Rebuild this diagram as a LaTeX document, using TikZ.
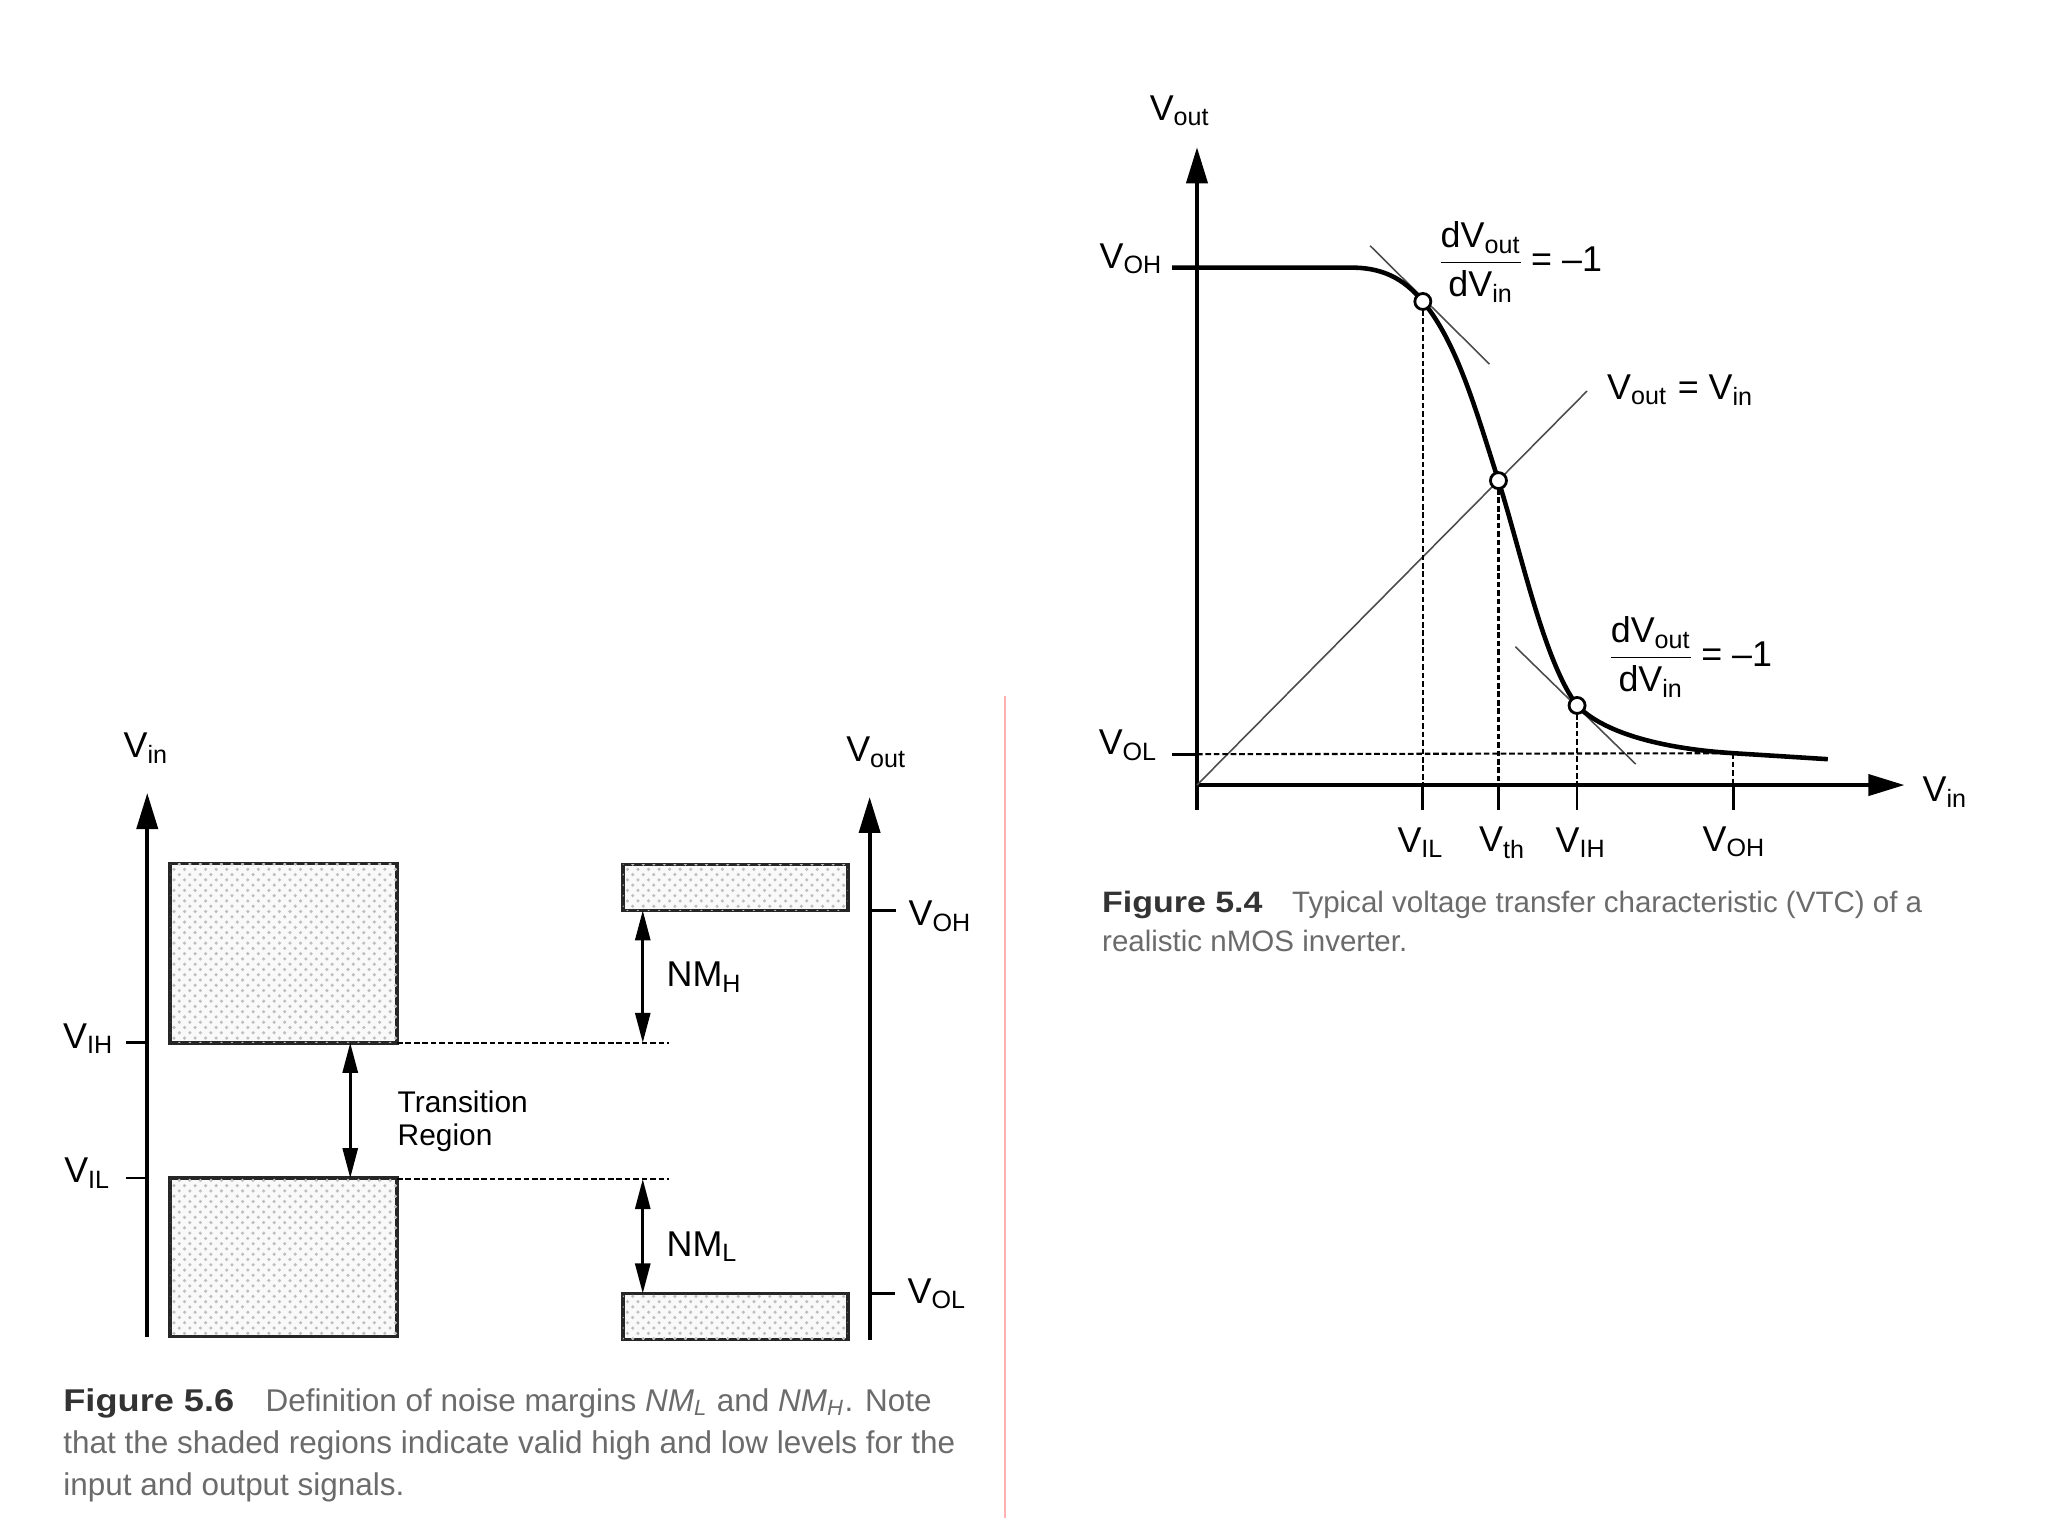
\documentclass[tikz,border=0pt]{standalone}
\usepackage{fontspec}
\setmainfont{Liberation Sans}
\usetikzlibrary{arrows.meta,patterns}
\newcommand{\volt}[1]{V\textsubscript{#1}}
\newcommand{\dvfrac}{\begin{tabular}{@{}c@{}}dV\textsubscript{out}\\\hline dV\textsubscript{in}\end{tabular} = --1}
\newcommand{\figname}[1]{{\bfseries\addfontfeature{FakeStretch=1.15}\color{black!80}#1}}
\definecolor{capgray}{gray}{0.42}
\tikzset{
    axisline/.style={line width=1.1pt,-{Triangle[length=3.6mm,width=2.1mm]}},
    marginarrow/.style={line width=0.8pt,{Triangle[length=3mm,width=1.5mm]}-{Triangle[length=3mm,width=1.5mm]}},
    levelbox/.style={draw=black!85,line width=1pt,fill=gray!5,postaction={pattern=crosshatch dots,pattern color=gray!50}},
    levelline/.style={line width=0.6pt,dash pattern=on 1.6pt off 0.8pt},
    tickline/.style={line width=0.8pt},
    thinline/.style={line width=0.45pt,black!70},
    vlabel/.style={font=\fontsize{10.2}{13.5}\selectfont,inner sep=0pt},
    captext/.style={text=capgray,align=left,anchor=north west,inner sep=0pt},
    ptmark/.style={circle,draw=black,line width=0.8pt,fill=white,inner sep=0pt,minimum size=1.6mm},
}
\begin{document}
\begin{tikzpicture}[x=0.00995cm,y=-0.00995cm]
\useasboundingbox (0,0) rectangle (2058.3,1546.7);

% Page divider
\draw[red!30,line width=0.5pt] (1010,700) -- (1010,1526);

% Noise margins
\begin{scope}
\coordinate (inBot) at (148,1344);
\coordinate (inTop) at (148,797);
\coordinate (outBot) at (874,1347);
\coordinate (outTop) at (874,801);
\coordinate (ihL) at (127,1048);
\coordinate (ihR) at (148,1048);
\coordinate (ilL) at (127,1184);
\coordinate (ilR) at (148,1184);

% Shaded levels
\draw[levelbox] (171,868) rectangle (399,1048);
\draw[levelbox] (171,1184) rectangle (399,1343);
\draw[levelbox] (626,869) rectangle (852,915);
\draw[levelbox] (626,1300) rectangle (852,1346);

\draw[axisline] (inBot) -- (inTop);
\draw[axisline] (outBot) -- (outTop);
\draw[tickline] (ihL) -- (ihR);
\draw[tickline] (ilL) -- (ilR);
\draw[tickline] (874,915) -- (901,915);
\draw[tickline] (874,1300) -- (899,1300);

\draw[levelline] (399,1048) -- (672,1048);
\draw[levelline] (399,1185) -- (672,1185);
\draw[marginarrow] (352,1048) -- (352,1184);
\draw[marginarrow] (646,915) -- (646,1048);
\draw[marginarrow] (646,1185) -- (646,1300);

\node[vlabel] (inName) at (147,752) {\volt{in}};
\node[vlabel] (outName) at (881,756) {\volt{out}};
\node[vlabel] (ohName) at (945,921) {\volt{OH}};
\node[vlabel] (olName) at (942,1300) {\volt{OL}};
\node[vlabel] (ihName) at (89,1044) {\volt{IH}};
\node[vlabel] (ilName) at (88,1179) {\volt{IL}};
\node[vlabel] (nmhName) at (708,982) {NM\textsubscript{H}};
\node[vlabel] (nmlName) at (706,1253) {NM\textsubscript{L}};
\node[vlabel,font=\fontsize{8.5}{9.4}\selectfont,align=left,anchor=west] (transName) at (399,1127) {Transition\\Region};
\node[captext,font=\fontsize{8.95}{12}\selectfont] (capLeft) at (63,1395) {\figname{Figure 5.6}\quad Definition of noise margins \textit{NM}\textsubscript{\textit{L}} and \textit{NM}\textsubscript{\textit{H}}. Note\\that the shaded regions indicate valid high and low levels for the\\input and output signals.};
\end{scope}

% Transfer characteristic
\begin{scope}
\coordinate (org) at (1203,789);
\coordinate (yBot) at (1203,814);
\coordinate (yTop) at (1203,148);
\coordinate (xEnd) at (1914,789);
\coordinate (ptIL) at (1430,303);
\coordinate (ptTh) at (1506,483);
\coordinate (ptIH) at (1585,709);
\coordinate (ptOH) at (1742,757);

\draw[axisline] (yBot) -- (yTop);
\draw[axisline] (org) -- (xEnd);

% Guides
\draw[thinline] (org) -- (1595,393);
\draw[thinline] (1377,247) -- (1497,366);
\draw[thinline] (1523,650) -- (1644,768);
\draw[levelline] (ptIL) -- (1430,789);
\draw[levelline] (ptTh) -- (1506,789);
\draw[levelline] (ptIH) -- (1585,789);
\draw[levelline] (ptOH) -- (1742,789);
\draw[levelline] (1203,758) -- (ptOH);
\draw[tickline] (1178,758) -- (1203,758);
\foreach \x in {1430,1506,1585,1742} {
    \draw[tickline] (\x,789) -- (\x,814);
}

% Curve
\draw[line width=1.3pt] (1178,269) -- (1359,269)
    .. controls (1395,269) and (1415,285) .. (ptIL)
    .. controls (1465,345) and (1484,415) .. (ptTh)
    .. controls (1530,560) and (1552,665) .. (ptIH)
    .. controls (1610,735) and (1665,752) .. (ptOH)
    -- (1837,763);

\node[ptmark] (markIL) at (ptIL) {};
\node[ptmark] (markTh) at (ptTh) {};
\node[ptmark] (markIH) at (ptIH) {};

\node[vlabel] (voutName) at (1186,111) {\volt{out}};
\node[vlabel] (vohName) at (1137,260) {\volt{OH}};
\node[vlabel] (volName) at (1134,749) {\volt{OL}};
\node[vlabel] (vinName) at (1955,796) {\volt{in}};
\node[vlabel] (xIL) at (1428,847) {\volt{IL}};
\node[vlabel] (xTh) at (1510,847) {\volt{th}};
\node[vlabel] (xIH) at (1589,847) {\volt{IH}};
\node[vlabel] (xOH) at (1743,846) {\volt{OH}};
\node[vlabel] (slopeTop) at (1529,264) {\dvfrac};
\node[vlabel] (slopeBot) at (1700,661) {\dvfrac};
\node[vlabel] (eqName) at (1689,392) {\volt{out} = \volt{in}};
\node[captext,font=\fontsize{8.4}{11}\selectfont] (capRight) at (1107,895) {\figname{Figure 5.4}\quad Typical voltage transfer characteristic (VTC) of a\\realistic nMOS inverter.};
\end{scope}
\end{tikzpicture}
\end{document}
